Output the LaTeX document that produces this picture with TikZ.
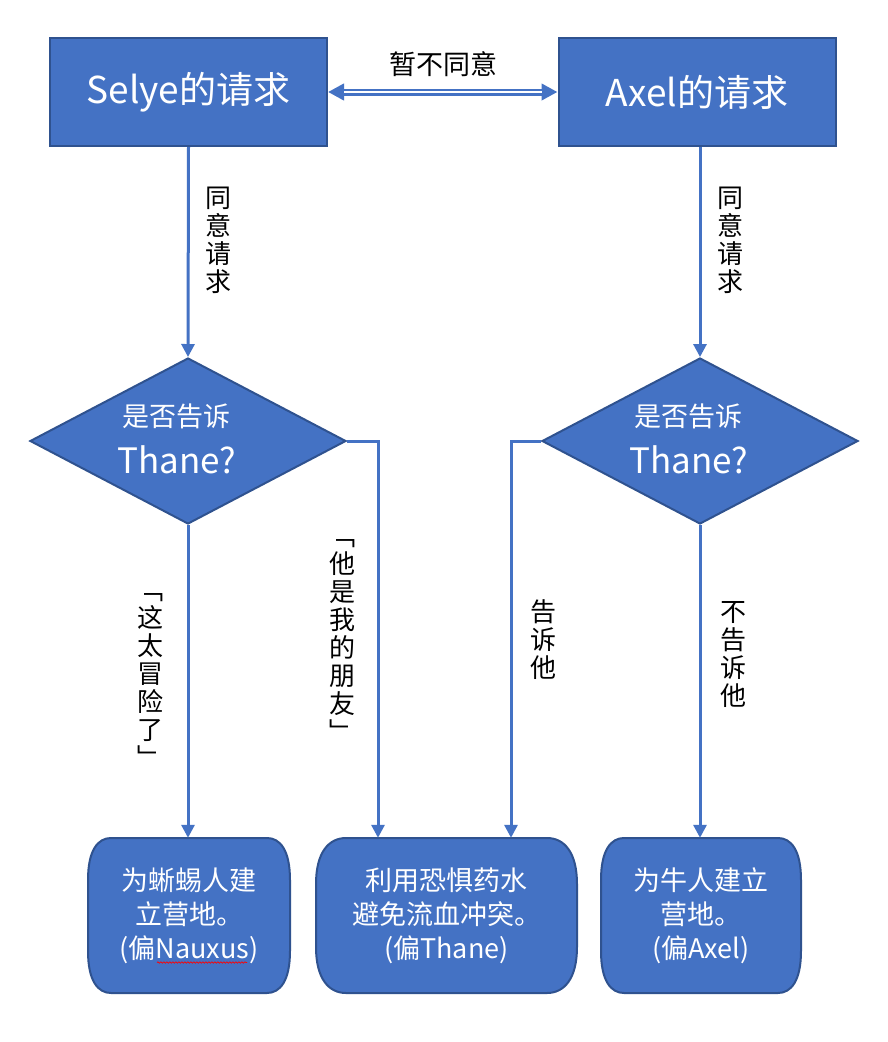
\documentclass[tikz,border=0pt]{standalone}
\usepackage{fontspec}
\setmainfont{Noto Sans CJK SC}
\usetikzlibrary{shapes.geometric,arrows.meta,decorations.pathmorphing,calc}
\definecolor{fillb}{HTML}{4472C4}
\definecolor{edgeb}{HTML}{2F528F}
\begin{document}
\begin{tikzpicture}[x=1pt,y=-1pt,
  bigbox/.style={rectangle,fill=fillb,draw=edgeb,line width=2pt,text=white,minimum width=277,minimum height=108,inner sep=0pt,font=\fontsize{37}{40}\selectfont},
  decide/.style={diamond,aspect=1.9,fill=fillb,draw=edgeb,line width=2pt,minimum width=316,minimum height=166,inner sep=0pt},
  dtext/.style={text=white,align=center,inner sep=0pt},
  endtext/.style={rectangle,text=white,align=center,inner sep=0pt,font=\fontsize{27}{34}\selectfont},
  blob/.style={fill=fillb,draw=edgeb,line width=2pt},
  conn/.style={draw=fillb,line width=3pt,-{Triangle[length=13pt,width=13pt]}},
  lbl/.style={text=black,align=center,inner sep=0pt,font=\fontsize{26}{28}\selectfont},
  hlbl/.style={text=black,inner sep=0pt,font=\fontsize{27}{30}\selectfont},
  squiggle/.style={red,line width=0.7pt,decorate,decoration={snake,amplitude=0.7pt,segment length=3pt}}]
\useasboundingbox (0,0) rectangle (887,1042);
\fill[white] (0,0) rectangle (887,1042);

% top boxes
\node[bigbox] (s) at (188.5,92) {Selye的请求};
\node[bigbox] (a) at (697,92) {Axel的请求};

% double arrow
\draw[draw=fillb,line width=7pt,{Triangle[length=16pt,width=16pt]}-{Triangle[length=16pt,width=16pt]}] (s.east) -- (a.west);
\draw[white,line width=2.2pt,shorten <=16pt,shorten >=16pt] (s.east) -- (a.west);
\node[hlbl] (disagree) at (443,64) {暂不同意};

% diamonds
\node[decide] (d1) at (188,441) {};
\node[decide] (d2) at (700,441) {};
\node[dtext,font=\fontsize{27}{30}\selectfont] (d1a) at (176,416) {是否告诉};
\node[dtext,font=\fontsize{35}{38}\selectfont] (d1b) at (177,460) {Thane?};
\node[dtext,font=\fontsize{27}{30}\selectfont] (d2a) at (688,416) {是否告诉};
\node[dtext,font=\fontsize{35}{38}\selectfont] (d2b) at (689,460) {Thane?};

% bottom shapes
\draw[blob] (111,838) -- (267,838) .. controls (280,838) and (290,850) .. (290,880) -- (290,951) .. controls (290,981) and (280,993) .. (267,993) -- (111,993) .. controls (98,993) and (88,981) .. (88,951) -- (88,880) .. controls (88,850) and (98,838) .. cycle;
\draw[blob] (346,838) -- (547,838) .. controls (564,838) and (577,852) .. (577,884) -- (577,947) .. controls (577,979) and (564,993) .. (547,993) -- (346,993) .. controls (329,993) and (316,979) .. (316,947) -- (316,884) .. controls (316,852) and (329,838) .. cycle;
\draw[blob] (624,838) -- (778,838) .. controls (791,838) and (801,850) .. (801,880) -- (801,951) .. controls (801,981) and (791,993) .. (778,993) -- (624,993) .. controls (611,993) and (601,981) .. (601,951) -- (601,880) .. controls (601,850) and (611,838) .. cycle;

\node[endtext,minimum width=202,minimum height=155] (b1) at (189,915.5) {为蜥蜴人建\\立营地。\\(偏Nauxus)};
\node[endtext,minimum width=261,minimum height=155] (b2) at (446.5,915.5) {利用恐惧药水\\避免流血冲突。\\(偏Thane)};
\node[endtext,minimum width=200,minimum height=155] (b3) at (701,915.5) {为牛人建立\\营地。\\(偏Axel)};
\draw[squiggle] ([shift={(-32,47)}]b1.center) -- ([shift={(58,47)}]b1.center);

% connectors
\draw[conn] (s.south) -- (d1.north);
\draw[conn] (d2.north |- a.south) -- (d2.north);
\draw[conn] (d1.south) -- (d1.south |- b1.north);
\draw[conn] (d2.south) -- (d2.south |- b3.north);
\coordinate (m1) at ([xshift=-68.5]b2.north);
\coordinate (m2) at ([xshift=64.5]b2.north);
\draw[conn] (d1.east) -| (m1);
\draw[conn] (d2.west) -| (m2);

% labels
\node[lbl] (l1) at (218,240) {同\\意\\请\\求};
\node[lbl] (l2) at (730,240) {同\\意\\请\\求};
\node[lbl] (l3) at (150,680) {﹁\\这\\太\\冒\\险\\了\\﹂};
\node[lbl] (l4) at (342,640) {﹁\\他\\是\\我\\的\\朋\\友\\﹂};
\node[lbl] (l5) at (543,640) {告\\诉\\他};
\node[lbl] (l6) at (733,654) {不\\告\\诉\\他};
\end{tikzpicture}
\end{document}
